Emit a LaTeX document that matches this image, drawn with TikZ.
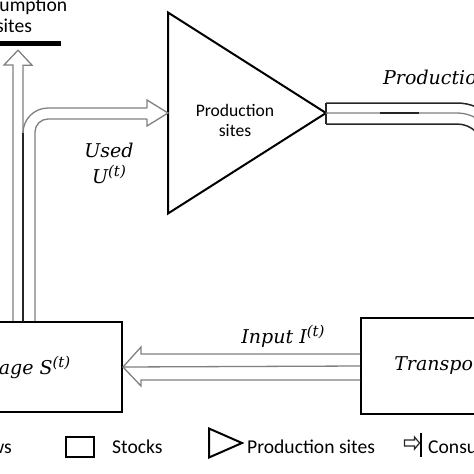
\documentclass[tikz,border=0pt]{standalone}
\usepackage{fontspec}
\setmainfont{Carlito}
\newfontfamily\flowfont{DejaVu Serif}
\usepackage{tikz}
\usetikzlibrary{shapes.geometric, positioning, calc}
\newcommand{\legsize}{\fontsize{19.6}{21}\selectfont}
\newcommand{\flowsize}{\flowfont\itshape\fontsize{19}{26}\selectfont}
\newcommand{\supt}{\raisebox{7pt}{\fontsize{15}{15}\selectfont(t)}}
\tikzstyle{stock} = [rectangle, draw=black, line width=2pt, text centered, font=\flowsize]
\tikzstyle{site} = [isosceles triangle, isosceles triangle stretches, draw=black, line width=2pt, inner sep=0pt, outer sep=0pt]
\tikzstyle{flowline} = [draw=black!50, line width=1.3pt]
\tikzstyle{flowdark} = [draw=black!85, line width=1.5pt]
\tikzstyle{flowlabel} = [font=\flowsize, inner sep=0pt, align=center]
\tikzstyle{legend} = [font=\legsize, inner sep=0pt, align=center]
\begin{document}
\begin{tikzpicture}[x=1pt, y=-1pt]
\useasboundingbox (0,0) rectangle (474,474);
\clip (0,0) rectangle (474,474);

% Stocks
\node (storage) [stock, minimum width=216pt, minimum height=90pt] at (14,367) {Storage S\supt};
\node (transport) [stock, minimum width=162pt, minimum height=96pt] at (442,366) {Transport};

% Production sites
\node (prod) [site, minimum height=158pt, minimum width=201pt, anchor=apex] at (326,113) {};
\node (prod_lbl) [legend, font=\fontsize{17.6}{20}\selectfont] at (235,120) {Production\\sites};

% Consumption sites
\node (bar) [rectangle, fill=black, minimum width=86pt, minimum height=5pt, inner sep=0pt] at (18,43) {};
\node (cons_lbl) [legend, above=7pt of bar, xshift=-4pt] {Consumption\\sites};

% Consumption flow
\coordinate (cons_tip) at ([yshift=-4.5pt]bar.south);
\draw [flowline] ([xshift=-1pt]storage.north) -- ++(0,-256) -- ++(-9,0) -- (cons_tip) -- ++(14,15) -- ++(-9,0) -- ([xshift=9pt]storage.north);

% Used flow
\draw [flowline] ([xshift=9pt]storage.north) [rounded corners=25pt] |- ($(prod.west)+(-21,-5)$);
\draw [flowdark] ([xshift=9pt]storage.north) -- ++(0,-188);
\draw [flowline] ($(prod.west)+(-21,-5)$) -- ++(0,-8) -- (prod.west) -- ++(-21,13) -- ++(0,-7);
\draw [flowline] ($(prod.west)+(-21,6)$) [rounded corners=13pt] -| ([xshift=21pt]storage.north);

% Production flow
\draw [flowdark] ([yshift=10pt]prod.apex) -- ([yshift=-11pt]prod.apex);
\draw [flowdark] ([yshift=10pt]prod.apex) [rounded corners=48pt] -| ([xshift=63pt]transport.north);
\draw [flowline] (prod.apex) [rounded corners=38pt] -| ([xshift=53pt]transport.north);
\draw [flowdark] ([yshift=-11pt]prod.apex) [rounded corners=27pt] -| ([xshift=42pt]transport.north);
\draw [flowdark] ([xshift=54pt]prod.apex) -- ++(39,0);

% Input flow
\draw [flowline] ([yshift=12pt]transport.west) -- ++(-219,0) -- ++(0,-7) -- (storage.east) -- ++(18,19) -- ++(0,-6) -- ([yshift=-14pt]transport.west);
\draw [flowline] (transport.west) -- (storage.east);

% Flow labels
\node (used_lbl) [flowlabel] at (109,163) {Used\\U\supt};
\node (input_lbl) [flowlabel] at (283,336) {Input I\supt};
\node (prod_flow_lbl) [flowlabel, anchor=base west] at (383,84) {Production};

% Legend
\node (leg_flow) [legend, anchor=base east] at (12,453) {Flows};
\node (leg_stock) [rectangle, draw=black, line width=2pt, minimum width=28pt, minimum height=20pt, inner sep=0pt] at (80,447) {};
\node (leg_stock_txt) [legend, anchor=base west] at (112,453) {Stocks};
\node (leg_site) [site, minimum height=33pt, minimum width=29pt, anchor=apex] at (242,443) {};
\node (leg_site_txt) [legend, anchor=base west] at (247,453) {Production sites};
\node (leg_bar) [rectangle, fill=black, minimum width=2.5pt, minimum height=24pt, inner sep=0pt] at (421,445) {};
\coordinate (leg_tip) at ([yshift=2pt]leg_bar.west);
\draw [flowdark, line width=1.2pt] (leg_tip) -- ++(-5,-6) -- ++(0,3) -- ++(-10,0) -- ++(0,6) -- ++(10,0) -- ++(0,3) -- cycle;
\node (leg_cons_txt) [legend, anchor=base west] at (428,453) {Consumption sites};

\end{tikzpicture}
\end{document}
